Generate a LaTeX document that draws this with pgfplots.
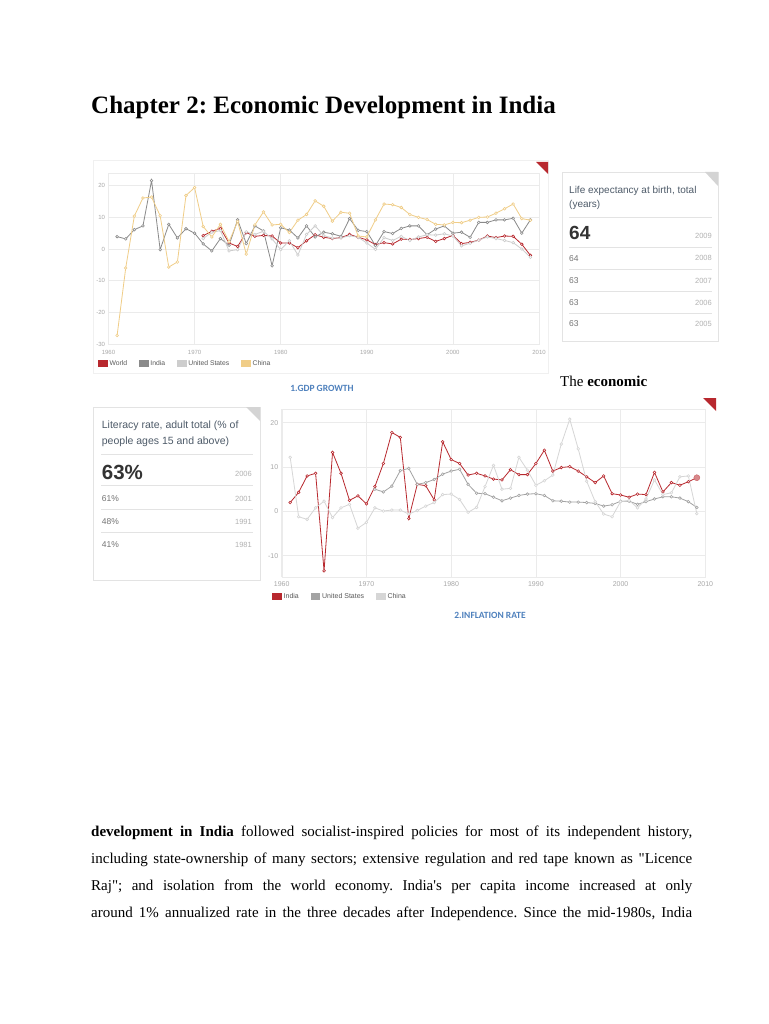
\documentclass[border=0pt]{standalone}
\usepackage{fontspec}
\setmainfont{Liberation Serif}
\setsansfont{Liberation Sans}
\newfontfamily\nomap{Liberation Serif}[Ligatures=TeXOff]
\newfontfamily\calib{Carlito}
\usepackage{pgfplots}
\pgfplotsset{compat=1.18}
\definecolor{wred}{HTML}{B8282E}
\definecolor{indg}{HTML}{8A8A8A}
\definecolor{usg}{HTML}{CDCDCD}
\definecolor{chy}{HTML}{F0CD87}
\definecolor{usg2}{HTML}{A3A3A3}
\definecolor{chg2}{HTML}{D6D6D6}
\definecolor{gridc}{HTML}{EBEBEB}
\definecolor{tickc}{HTML}{A8A8A8}
\definecolor{boxc}{HTML}{E3E3E3}
\definecolor{trig}{HTML}{D4D4D4}
\definecolor{ttlc}{HTML}{4E5B69}
\definecolor{capb}{HTML}{4F81BD}
\newcommand\fs[1]{\fontsize{#1}{#1}\selectfont}
\newcommand\dq{{\nomap "}}
\newcommand\sq{{\nomap '}}
\pgfplotsset{
 wb/.style={
  scale only axis, anchor=south west,
  xmin=1960, xmax=2010,
  xtick={1960,1970,1980,1990,2000,2010},
  axis line style={draw=gridc},
  grid=major, major grid style={draw=gridc, line width=0.6pt},
  major tick length=0pt,
  /pgf/number format/assume math mode=true,
  xticklabel style={/pgf/number format/1000 sep={}},
  tick label style={text=tickc},
  legend cell align=left,
  legend columns=4,
  legend image code/.code={\fill (0pt,-2.9pt) rectangle (8.5pt,2.9pt);},
 },
 ln/.style={color=#1, line width=0.8pt, mark=*, mark size=1.35pt, mark options={fill=white, draw=#1, line width=0.6pt}},
}
\begin{document}
\frenchspacing
\begin{tikzpicture}
\begin{scope}[x=1pt,y=-1pt]
\useasboundingbox (0,0) rectangle (768,1024);
\fill[white] (0,0) rectangle (768,1024);
% title
\node[anchor=base west, inner sep=0] at (91,114) {\fs{25}\bfseries\frenchspacing Chapter 2: Economic Development in India};
% chart 1 panel
\draw[draw=black!6, line width=0.8pt] (93,160) rectangle (548,373);
\fill[wred] (536,162) -- (548,162) -- (548,174) -- cycle;
% life expectancy box
\draw[boxc, line width=0.8pt] (562,172) rectangle (718,341);
\fill[trig] (705,172) -- (718,172) -- (718,186) -- cycle;
\node[anchor=base west, inner sep=0, text=ttlc] at (569,193.5) {\sffamily\fs{10}Life expectancy at birth, total};
\node[anchor=base west, inner sep=0, text=ttlc] at (569,207.5) {\sffamily\fs{10}(years)};
\foreach \yy in {217,247,269,291,313} {\draw[boxc, line width=0.7pt] (569,\yy) -- (712,\yy);}
\node[anchor=base west, inner sep=0, text=black!80] at (569,240) {\sffamily\bfseries\fs{19}64};
\node[anchor=base west, inner sep=0, text=black!55] at (569,261) {\sffamily\fs{8.5}64};
\node[anchor=base west, inner sep=0, text=black!55] at (569,283.3) {\sffamily\fs{8.5}63};
\node[anchor=base west, inner sep=0, text=black!55] at (569,305) {\sffamily\fs{8.5}63};
\node[anchor=base west, inner sep=0, text=black!55] at (569,326.5) {\sffamily\fs{8.5}63};
\node[anchor=base east, inner sep=0, text=black!30] at (712,238.5) {\sffamily\fs{7.5}2009};
\node[anchor=base east, inner sep=0, text=black!30] at (712,260.5) {\sffamily\fs{7.5}2008};
\node[anchor=base east, inner sep=0, text=black!30] at (712,283) {\sffamily\fs{7.5}2007};
\node[anchor=base east, inner sep=0, text=black!30] at (712,305) {\sffamily\fs{7.5}2006};
\node[anchor=base east, inner sep=0, text=black!30] at (712,326.5) {\sffamily\fs{7.5}2005};
% captions
\node[anchor=base, inner sep=0, text=capb] at (322,391) {\calib\bfseries\fs{9.5}1.GDP GROWTH};
\node[anchor=base, inner sep=0, text=capb] at (490,618) {\calib\bfseries\fs{9.5}2.INFLATION RATE};
\node[anchor=base west, inner sep=0] at (560,386) {\fs{15}The \textbf{economic}};
% literacy box
\draw[boxc, line width=0.8pt] (93,407) rectangle (260,580);
\fill[trig] (246,407) -- (260,407) -- (260,421) -- cycle;
\node[anchor=base west, inner sep=0, text=ttlc] at (101.7,428.5) {\sffamily\fs{10.5}Literacy rate, adult total (\% of};
\node[anchor=base west, inner sep=0, text=ttlc] at (101.7,444) {\sffamily\fs{10.5}people ages 15 and above)};
\foreach \yy in {454,485,509,532} {\draw[boxc, line width=0.7pt] (101,\yy) -- (253,\yy);}
\node[anchor=base west, inner sep=0, text=black!80] at (101.7,479) {\sffamily\bfseries\fs{20.5}63\%};
\node[anchor=base west, inner sep=0, text=black!55] at (101.7,501) {\sffamily\fs{8.5}61\%};
\node[anchor=base west, inner sep=0, text=black!55] at (101.7,524) {\sffamily\fs{8.5}48\%};
\node[anchor=base west, inner sep=0, text=black!55] at (101.7,547) {\sffamily\fs{8.5}41\%};
\node[anchor=base east, inner sep=0, text=black!30] at (252,476.5) {\sffamily\fs{7.5}2006};
\node[anchor=base east, inner sep=0, text=black!30] at (252,501) {\sffamily\fs{7.5}2001};
\node[anchor=base east, inner sep=0, text=black!30] at (252,524) {\sffamily\fs{7.5}1991};
\node[anchor=base east, inner sep=0, text=black!30] at (252,547) {\sffamily\fs{7.5}1981};
% chart 2 corner
\fill[wred] (703,398) -- (716,398) -- (716,411) -- cycle;
% body text
\node[anchor=base west, inner sep=0] at (91,836) {\fs{15}\frenchspacing\makebox[601pt][s]{\textbf{development in India} followed socialist-inspired policies for most of its independent history,}};
\node[anchor=base west, inner sep=0] at (91,863) {\fs{15}\frenchspacing\makebox[601pt][s]{including state-ownership of many sectors; extensive regulation and red tape known as \dq Licence}};
\node[anchor=base west, inner sep=0] at (91,890) {\fs{15}\frenchspacing\makebox[601pt][s]{Raj\dq; and isolation from the world economy. India\sq s per capita income increased at only}};
\node[anchor=base west, inner sep=0] at (91,917) {\fs{15}\frenchspacing\makebox[601pt][s]{around 1\% annualized rate in the three decades after Independence. Since the mid-1980s, India}};
\end{scope}

% ---------- chart 1: GDP growth ----------
\begin{axis}[wb, at={(108.5pt,-344pt)}, width=430.5pt, height=171pt,
  ymin=-30, ymax=24, ytick={-30,-20,-10,0,10,20},
  tick label style={font=\sffamily\fs{6}},
  xticklabel style={yshift=-2.5pt},
  legend style={draw=none, fill=none, at={(0,0)}, anchor=north west, xshift=-13.5pt, yshift=-12pt,
    font=\sffamily\fs{6.8}, text=black!65, /tikz/every even column/.append style={column sep=10pt}}]
\addplot[ln=wred] coordinates {(1971,4.2)(1972,5.6)(1973,6.5)(1974,1.9)(1975,0.8)(1976,5.2)(1977,4.0)(1978,4.3)(1979,4.1)(1980,1.9)(1981,1.9)(1982,0.4)(1983,2.6)(1984,4.5)(1985,3.7)(1986,3.3)(1987,3.6)(1988,4.6)(1989,3.7)(1990,2.9)(1991,1.4)(1992,2.0)(1993,1.6)(1994,3.1)(1995,3.0)(1996,3.3)(1997,3.7)(1998,2.4)(1999,3.3)(2000,4.3)(2001,1.7)(2002,2.1)(2003,2.8)(2004,4.1)(2005,3.6)(2006,4.1)(2007,4.0)(2008,1.5)(2009,-2.0)};
\addlegendentry{World}
\addplot[ln=indg] coordinates {(1961,3.9)(1962,3.2)(1963,6.1)(1964,7.3)(1965,21.6)(1966,-0.2)(1967,7.8)(1968,3.5)(1969,6.4)(1970,5.0)(1971,1.6)(1972,-0.6)(1973,3.3)(1974,1.2)(1975,9.2)(1976,1.7)(1977,7.3)(1978,5.7)(1979,-5.3)(1980,6.7)(1981,6.0)(1982,3.5)(1983,7.3)(1984,3.8)(1985,5.3)(1986,4.8)(1987,4.0)(1988,9.6)(1989,5.9)(1990,5.5)(1991,1.1)(1992,5.5)(1993,4.9)(1994,6.5)(1995,7.3)(1996,7.3)(1997,4.5)(1998,6.3)(1999,7.3)(2000,5.0)(2001,5.3)(2002,3.7)(2003,8.4)(2004,8.4)(2005,9.2)(2006,9.2)(2007,9.7)(2008,5.0)(2009,9.2)};
\addlegendentry{India}
\addplot[ln=usg] coordinates {(1971,3.3)(1972,5.3)(1973,5.8)(1974,-0.6)(1975,-0.2)(1976,5.4)(1977,4.6)(1978,5.6)(1979,3.2)(1980,-0.2)(1981,2.6)(1982,-1.9)(1983,4.6)(1984,7.3)(1985,4.2)(1986,3.5)(1987,3.5)(1988,4.2)(1989,3.7)(1990,1.9)(1991,-0.1)(1992,3.6)(1993,2.7)(1994,4.0)(1995,2.7)(1996,3.8)(1997,4.5)(1998,4.4)(1999,4.8)(2000,4.1)(2001,1.0)(2002,1.8)(2003,2.8)(2004,3.8)(2005,3.3)(2006,2.7)(2007,2.0)(2008,0.0)(2009,-2.6)};
\addlegendentry{United States}
\addplot[ln=chy] coordinates {(1961,-27.3)(1962,-6.0)(1963,10.4)(1964,16.1)(1965,16.4)(1966,10.5)(1967,-5.7)(1968,-4.1)(1969,16.9)(1970,19.4)(1971,7.1)(1972,3.8)(1973,7.8)(1974,2.3)(1975,8.7)(1976,-1.6)(1977,7.6)(1978,11.7)(1979,7.6)(1980,7.8)(1981,5.2)(1982,9.1)(1983,10.9)(1984,15.2)(1985,13.5)(1986,8.8)(1987,11.6)(1988,11.3)(1989,4.1)(1990,3.8)(1991,9.2)(1992,14.2)(1993,14.0)(1994,13.1)(1995,10.9)(1996,10.0)(1997,9.3)(1998,7.8)(1999,7.6)(2000,8.4)(2001,8.3)(2002,9.1)(2003,10.0)(2004,10.1)(2005,11.3)(2006,12.7)(2007,14.2)(2008,9.6)(2009,9.1)};
\addlegendentry{China}
\end{axis}

% ---------- chart 2: inflation ----------
\begin{axis}[wb, at={(281.7pt,-577pt)}, width=423.6pt, height=168pt,
  ymin=-14.8, ymax=23.1, ytick={-10,0,10,20},
  tick label style={font=\sffamily\fs{7}},
  xticklabel style={yshift=-1.5pt},
  legend style={draw=none, fill=none, at={(0,0)}, anchor=north west, xshift=-12.5pt, yshift=-12pt,
    font=\sffamily\fs{7}, text=black!65, /tikz/every even column/.append style={column sep=10pt}}]
\addplot[ln=wred] coordinates {(1961,2.0)(1962,4.3)(1963,8.0)(1964,8.6)(1965,-13.4)(1966,13.3)(1967,8.6)(1968,2.5)(1969,3.5)(1970,1.7)(1971,5.6)(1972,10.8)(1973,17.8)(1974,16.7)(1975,-1.6)(1976,6.1)(1977,5.8)(1978,2.6)(1979,15.7)(1980,11.7)(1981,10.8)(1982,8.2)(1983,8.6)(1984,8.0)(1985,7.3)(1986,7.1)(1987,9.4)(1988,8.3)(1989,8.3)(1990,10.8)(1991,13.8)(1992,9.1)(1993,9.9)(1994,10.1)(1995,9.1)(1996,7.8)(1997,6.5)(1998,8.0)(1999,4.0)(2000,3.7)(2001,3.2)(2002,3.9)(2003,3.8)(2004,8.8)(2005,4.4)(2006,6.5)(2007,5.9)(2008,6.7)(2009,7.6)};
\addlegendentry{India}
\addplot[ln=usg2] coordinates {(1971,5.0)(1972,4.4)(1973,5.7)(1974,9.2)(1975,9.7)(1976,6.1)(1977,6.5)(1978,7.2)(1979,8.4)(1980,9.1)(1981,9.5)(1982,6.1)(1983,4.1)(1984,4.0)(1985,3.2)(1986,2.4)(1987,3.0)(1988,3.6)(1989,3.9)(1990,4.0)(1991,3.6)(1992,2.4)(1993,2.3)(1994,2.1)(1995,2.1)(1996,2.0)(1997,1.8)(1998,1.2)(1999,1.5)(2000,2.3)(2001,2.3)(2002,1.6)(2003,2.2)(2004,2.8)(2005,3.3)(2006,3.3)(2007,3.0)(2008,2.2)(2009,0.9)};
\addlegendentry{United States}
\addplot[ln=chg2] coordinates {(1961,12.2)(1962,-1.2)(1963,-1.8)(1964,0.8)(1965,2.3)(1966,-1.4)(1967,0.8)(1968,1.6)(1969,-3.8)(1970,-2.5)(1971,0.8)(1972,0.1)(1973,0.3)(1974,0.3)(1975,-0.6)(1976,0.2)(1977,1.2)(1978,2.0)(1979,3.8)(1980,3.9)(1981,2.7)(1982,-0.2)(1983,0.9)(1984,5.6)(1985,10.4)(1986,5.0)(1987,5.2)(1988,12.2)(1989,9.3)(1990,5.9)(1991,6.9)(1992,8.2)(1993,15.2)(1994,20.8)(1995,14.1)(1996,6.8)(1997,2.2)(1998,-0.6)(1999,-1.2)(2000,2.2)(2001,2.5)(2002,0.8)(2003,2.8)(2004,7.1)(2005,3.8)(2006,4.2)(2007,7.8)(2008,8.0)(2009,-0.5)};
\addlegendentry{China}
\addplot[only marks, mark=*, mark size=3pt, mark options={fill=wred!55, draw=wred!75}, forget plot] coordinates {(2009,7.6)};
\end{axis}
\end{tikzpicture}
\end{document}
